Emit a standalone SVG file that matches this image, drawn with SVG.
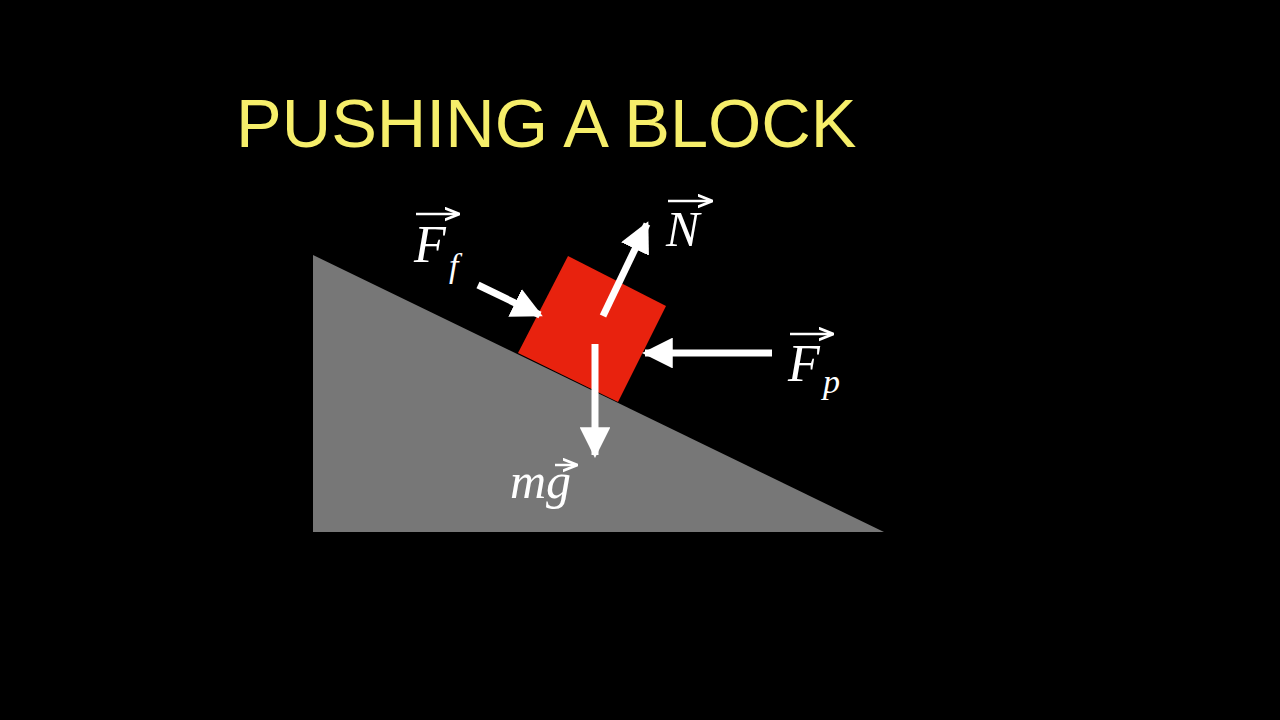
<svg xmlns="http://www.w3.org/2000/svg" width="1280" height="720" viewBox="0 0 1280 720">
<defs>
<marker id="ah" viewBox="0 0 10 10" refX="9" refY="5" markerWidth="4.4" markerHeight="4.4" orient="auto" markerUnits="strokeWidth"><path d="M0,0 L10,5 L0,10 Z" fill="#fff"/></marker>
<marker id="vh" viewBox="0 0 10 10" refX="9" refY="5" markerWidth="6" markerHeight="6" orient="auto" markerUnits="strokeWidth"><path d="M0,1 L10,5 L0,9" fill="none" stroke="#fff" stroke-width="1.8"/></marker>
<style>
.f{stroke:#fff;stroke-width:7;fill:none;marker-end:url(#ah)}
.v{stroke:#fff;stroke-width:2.5;fill:none;marker-end:url(#vh)}
.m{font-family:"Liberation Serif",serif;font-style:italic;fill:#fff}
</style>
</defs>
<rect width="1280" height="720" fill="#000"/>
<text x="236" y="147" font-family="Liberation Sans, Arial, sans-serif" font-size="68.5" fill="#f6ee6a">PUSHING A BLOCK</text>
<g id="incline"><polygon points="313,255 313,532 884,532" fill="#777"/></g>
<g id="block"><polygon points="568,256 666,306 618,402 518,353" fill="#e8220e"/></g>
<g id="connectors">
<line class="f" x1="603" y1="316" x2="647" y2="224"/>
<line class="f" x1="478" y1="285" x2="540" y2="315"/>
<line class="f" x1="772" y1="353" x2="645" y2="353"/>
<line class="f" x1="595" y1="344" x2="595" y2="455"/>
</g>
<g id="labels">
<text class="m" x="414" y="262" font-size="52">F</text><text class="m" x="449" y="277" font-size="34">f</text>
<line class="v" x1="416" y1="214" x2="458" y2="214"/>
<text class="m" x="666" y="246" font-size="50">N</text>
<line class="v" x1="668" y1="201" x2="711" y2="201"/>
<text class="m" x="788" y="381" font-size="52">F</text><text class="m" x="823" y="393" font-size="34">p</text>
<line class="v" x1="790" y1="334" x2="832" y2="334"/>
<text class="m" x="510" y="498" font-size="50">mg</text>
<line class="v" x1="555" y1="465" x2="576" y2="465"/>
</g>
</svg>
